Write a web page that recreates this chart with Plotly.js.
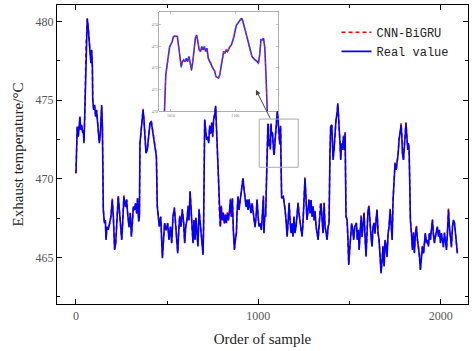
<!DOCTYPE html>
<html>
<head>
<meta charset="utf-8">
<script src="https://cdn.plot.ly/plotly-3.0.1.min.js"></script>
<style>html,body{margin:0;padding:0;background:#fff}#chart{width:474px;height:351px}</style>
</head>
<body>
<div id="chart"></div>
<script>
// Sample index (order of sample)
const order = [
0,4,7,13,17,22,26,31,37,40,44,49,55,59,62,68,73,77,82,86,90,92,97,102,108,113,119,124,128,134,141,145,
150,156,161,165,170,177,185,192,199,205,212,218,225,232,238,245,251,256,263,271,278,284,291,298,304,309,315,322,327,333,338,344,348,
351,357,362,368,373,379,384,391,399,406,413,421,428,435,441,
446,452,457,465,470,474,479,486,494,503,510,518,525,532,540,547,552,558,563,569,576,583,591,596,602,609,615,620,626,631,636,642,647,653,658,664,669,675,680,686,691,697,700,
706,711,717,722,728,733,739,744,750,755,761,766,772,775,781,
786,792,797,803,808,814,819,825,830,836,841,847,852,858,863,869,874,880,883,889,894,900,905,911,916,922,927,933,938,944,949,955,960,966,971,977,982,988,993,999,1004,
1009,1017,1024,1028,1031,1035,1040,
1045,1046,1048,1049,1050,1051,1052,1053,1055,1056,1057,1058,1059,1060,1061,1062,1063,1064,1065,1066,1067,1068,1069,1070,1071,1072,1073,1074,1075,1076,1077,1078,1079,1080,1081,1082,1084,1085,1087,1088,1089,1090,1091,1092,1093,1094,1095,1096,1097,1098,1099,1100,1101,1103,1104,1105,1106,1107,1108,1109,1110,1111,1112,1113,1114,1116,1117,1118,1119,1120,1121,1122,1123,1124,1125,1128,1137,
1143,1147,1152,1158,1163,1169,1174,1180,1185,1190,1196,1201,1207,1212,1218,1223,1229,1234,1240,1245,1251,1256,1262,1267,1273,1278,1284,1289,1295,1300,1306,1311,1317,1322,1328,1333,1339,1344,1350,1355,1361,1366,1372,1377,1383,1388,
1393,1397,1403,1406,1410,1415,1421,1426,1432,1436,1441,1445,1448,1452,1456,1461,1467,1472,1476,
1481,1487,1492,1496,1501,1507,1512,1518,1523,1529,1538,1543,1549,1553,1558,1564,1569,1575,1580,1586,1591,1596,1602,1607,1613,1618,1624,1629,1635,1640,1646,1651,1657,1662,1668,1673,1679,1684,1690,1695,1701,1706,1712,1717,1723,1728,1734,
1739,1745,1750,1756,1761,1767,1772,1778,1783,1787,1790,1796,1801,1805,1810,1816,1820,1823,1827,1831,
1834,1840,1845,1851,1856,1862,1867,1873,1878,1884,1889,1895,1900,1906,1911,1916,1922,1927,1933,1938,1944,1949,1955,1960,1966,1971,1977,1982,1988,1993,1999,2004,2010,2015,2021,2026,2032,2037,2043,2048,2054,2059,2065,2070,2076,2081,2087,2092
];

// Real exhaust temperature (°C)
const realValue = [
470.36,472.90,473.33,472.69,473.54,473.96,473.12,473.43,472.90,473.12,472.27,474.39,478.62,479.90,480.21,479.47,478.62,477.56,477.35,478.20,477.14,475.02,474.39,474.70,473.96,474.39,473.43,472.90,472.27,472.90,474.70,473.33,
468.03,467.18,467.39,466.12,466.97,466.76,467.18,467.61,468.67,467.61,465.49,465.91,467.39,468.88,468.03,467.18,466.12,467.18,468.88,468.24,468.67,467.71,466.97,467.82,466.33,467.18,468.24,468.03,468.45,467.82,468.77,467.29,467.61,
472.27,473.12,473.54,474.39,473.75,472.48,471.63,471.84,472.90,473.54,473.64,473.01,472.27,471.84,471.42,
468.24,467.71,466.97,467.61,465.91,464.96,465.91,467.18,466.76,467.18,466.12,466.97,465.91,467.61,468.13,466.97,466.12,465.27,466.55,467.61,466.97,468.03,467.18,465.91,466.97,467.39,468.24,467.39,469.20,467.82,466.97,465.91,467.39,466.12,467.50,466.65,465.70,468.03,467.39,466.97,466.12,465.17,466.97,
473.75,473.12,472.48,472.69,472.27,473.33,472.90,473.54,472.69,473.75,474.07,474.64,472.69,472.06,470.15,
467.82,466.97,468.24,467.39,467.82,467.18,467.71,467.18,467.82,467.39,467.82,468.66,467.61,468.77,466.76,465.49,466.12,466.55,467.82,468.88,468.03,468.66,469.09,469.94,470.04,469.30,468.88,468.24,468.66,468.03,468.66,468.24,467.82,468.45,468.03,467.39,466.97,467.61,468.66,467.61,466.97,
467.18,466.76,468.03,468.88,466.55,467.61,467.61,
470.00,471.68,472.60,472.99,473.09,473.22,473.45,473.47,473.45,473.06,472.45,472.06,472.29,472.37,472.29,472.45,472.29,472.53,472.22,471.91,472.29,472.76,473.37,473.52,473.22,472.83,472.76,472.99,472.83,472.99,472.76,472.91,472.45,472.29,472.22,472.06,471.85,471.60,471.53,471.68,472.06,472.37,472.76,472.68,472.83,472.76,472.91,472.99,473.06,473.22,473.45,473.75,473.98,474.14,474.21,474.29,474.14,473.91,473.68,473.45,473.22,472.91,472.68,472.53,472.45,472.37,472.29,472.22,472.60,473.30,473.29,473.37,472.90,471.50,469.80,468.80,468.88,
468.45,468.03,467.39,466.33,467.18,468.45,467.39,466.55,467.18,466.33,467.61,466.55,466.97,467.82,468.45,467.82,467.39,466.76,466.33,467.18,468.66,470.04,468.66,467.39,468.03,468.66,467.82,468.66,467.61,468.24,467.39,467.92,466.97,466.55,466.12,466.97,468.24,468.45,467.39,466.55,468.45,466.97,466.55,466.12,466.97,467.18,
471.63,473.33,473.43,472.48,471.21,471.84,473.12,473.75,474.17,474.81,473.75,473.12,472.27,471.21,472.27,471.84,472.69,471.84,472.90,
467.61,467.39,466.12,464.53,465.49,466.55,467.18,466.76,466.12,466.97,467.18,466.12,466.76,465.49,466.97,467.61,466.33,467.39,467.82,466.12,465.06,466.55,468.03,468.24,466.97,466.33,465.70,466.97,467.18,466.55,467.39,468.03,466.55,466.12,465.06,464.00,464.85,465.70,464.43,466.12,465.70,465.06,466.55,466.97,468.03,466.97,466.12,
468.66,470.36,470.99,470.57,470.99,471.63,472.48,472.90,473.43,472.69,471.63,471.21,472.06,473.33,473.54,472.48,471.84,472.27,471.84,469.51,
467.39,466.55,465.49,466.55,465.27,466.55,466.97,466.12,465.70,465.06,464.22,465.27,465.70,465.27,466.12,466.55,465.91,466.12,465.70,466.55,466.12,466.76,467.39,466.55,465.91,466.33,466.76,466.97,466.33,466.76,465.91,466.55,466.12,465.70,466.55,465.91,465.49,466.55,468.03,466.97,466.12,465.70,466.97,467.39,467.18,466.55,465.70,465.27
];

// CNN-BiGRU predicted temperature (°C)
const predicted = [
470.36,472.80,473.38,472.75,473.50,473.90,473.20,473.40,472.95,473.10,472.35,474.30,478.50,479.85,480.15,479.50,478.55,477.62,477.40,478.12,477.20,475.10,474.42,474.65,474.02,474.35,473.48,472.95,472.32,472.88,474.62,473.40,
468.10,467.22,467.35,466.20,466.92,466.80,467.15,467.65,468.75,467.58,465.55,465.95,467.35,468.95,468.00,467.22,466.18,467.15,468.95,468.20,468.70,467.75,466.92,467.85,466.40,467.15,468.30,468.00,468.50,467.78,468.82,467.32,467.58,
472.20,473.18,473.50,474.45,473.70,472.55,471.68,471.80,472.95,473.50,473.70,473.05,472.30,471.80,471.48,
468.30,467.68,467.02,467.58,465.98,465.05,465.88,467.22,466.72,467.20,466.18,466.92,465.98,467.58,468.20,466.92,466.18,465.35,466.50,467.68,466.92,468.08,467.15,465.98,466.92,467.42,468.30,467.35,469.30,467.78,466.92,465.98,467.35,466.18,467.55,466.60,465.78,468.10,467.35,467.02,466.18,465.25,466.92,
473.80,473.08,472.55,472.65,472.32,473.40,472.85,473.60,472.65,473.80,474.12,474.58,472.75,472.02,470.22,
467.88,466.92,468.30,467.35,467.88,467.15,467.75,467.22,467.88,467.35,467.85,468.75,467.58,468.82,466.82,465.55,466.08,466.60,467.78,468.95,468.00,468.70,469.05,469.98,470.10,469.25,468.92,468.20,468.70,468.00,468.72,468.20,467.85,468.50,468.00,467.42,466.92,467.65,468.72,467.58,467.02,
467.15,466.80,468.08,468.95,466.60,467.58,467.65,
470.05,471.60,472.68,472.92,473.15,473.18,473.50,473.42,473.50,473.00,472.50,472.02,472.35,472.32,472.35,472.40,472.35,472.48,472.28,471.86,472.35,472.70,473.42,473.48,473.28,472.78,472.82,472.94,472.88,472.94,472.82,472.86,472.50,472.24,472.28,472.01,471.90,471.55,471.58,471.63,472.12,472.32,472.82,472.63,472.89,472.71,472.97,472.94,473.12,473.17,473.51,473.70,474.04,474.09,474.27,474.24,474.20,473.86,473.74,473.40,473.28,472.86,472.74,472.48,472.51,472.32,472.35,472.17,472.66,473.25,473.35,473.32,472.96,471.45,469.85,468.75,468.92,
468.50,468.00,467.45,466.40,467.15,468.50,467.35,466.60,467.15,466.40,467.58,466.60,466.92,467.88,468.50,467.78,467.42,466.72,466.40,467.15,468.72,470.10,468.62,467.42,468.00,468.72,467.78,468.72,467.58,468.30,467.35,467.98,466.92,466.60,466.18,466.92,468.30,468.50,467.35,466.60,468.50,466.92,466.60,466.18,466.92,467.22,
471.70,473.45,473.38,472.55,471.28,471.80,473.18,473.70,474.22,474.75,473.80,473.08,472.32,471.28,472.22,471.90,472.75,471.80,472.98,
467.68,467.35,466.18,464.60,465.45,466.60,467.15,466.80,466.18,466.92,467.22,466.18,466.72,465.55,466.92,467.68,466.30,467.45,467.88,466.18,465.12,466.50,468.10,468.30,466.92,466.38,465.75,466.92,467.22,466.50,467.45,468.10,466.50,466.18,465.12,464.08,464.80,465.75,464.50,466.08,465.75,465.02,466.60,466.92,468.10,466.92,466.18,
468.72,470.30,471.05,470.52,471.05,471.58,472.55,472.85,473.55,472.65,471.70,471.18,472.12,473.28,473.60,472.42,471.90,472.22,471.90,469.58,
467.45,466.50,465.55,466.62,465.32,466.50,467.02,466.08,465.75,465.02,464.30,465.22,465.75,465.22,466.18,466.50,465.98,466.08,465.75,466.50,466.18,466.72,467.45,466.50,465.98,466.28,466.82,466.92,466.40,466.72,465.98,466.50,466.18,465.65,466.60,465.88,465.55,466.50,468.12,466.92,466.18,465.65,467.02,467.35,467.22,466.50,465.75,465.22
];

const seriesNames = ['CNN-BiGRU', 'Real value'];
const xTickLabels = ['0', '1000', '2000'];
const yTickLabels = ['465', '470', '475', '480'];

const serif = 'Liberation Serif, Times New Roman, serif';

const traces = [
  // inset (drawn first, underneath the main panel)
  {x: order, y: realValue, xaxis: 'x', yaxis: 'y', type: 'scatter', mode: 'lines',
   line: {color: '#2a2aff', width: 1.6}, showlegend: false, hoverinfo: 'skip'},
  {x: order, y: predicted, xaxis: 'x', yaxis: 'y', type: 'scatter', mode: 'lines',
   line: {color: '#ff2020', width: 1, dash: '2px,3px'}, showlegend: false, hoverinfo: 'skip'},
  // main panel
  {x: order, y: predicted, xaxis: 'x2', yaxis: 'y2', type: 'scatter', mode: 'lines', name: seriesNames[0],
   line: {color: '#ff0000', width: 1.5, dash: '4px,3px'}},
  {x: order, y: realValue, xaxis: 'x2', yaxis: 'y2', type: 'scatter', mode: 'lines', name: seriesNames[1],
   line: {color: '#0000ff', width: 1.6}}
];

const insetAxis = {
  showline: true, linecolor: '#999', linewidth: 0.8, mirror: 'allticks',
  ticks: 'inside', ticklen: 2, tickcolor: '#999', tickwidth: 0.6,
  tickfont: {family: serif, size: 4, color: '#777'},
  showgrid: false, zeroline: false, fixedrange: true
};

const layout = {
  width: 474, height: 351,
  margin: {l: 57, r: 6, t: 5, b: 47},
  paper_bgcolor: '#ffffff', plot_bgcolor: 'rgba(0,0,0,0)',
  showlegend: true,
  legend: {x: 0.68, y: 0.957, xanchor: 'left', yanchor: 'top', bgcolor: 'rgba(0,0,0,0)',
           font: {family: 'Liberation Mono, monospace', size: 12, color: '#222'},
           itemwidth: 30, tracegroupgap: 0},
  xaxis: Object.assign({}, insetAxis, {domain: [0.249, 0.537], anchor: 'y', range: [1041, 1133], dtick: 50, tick0: 1000}),
  yaxis: Object.assign({}, insetAxis, {domain: [0.6445, 0.978], anchor: 'x', range: [470, 474.6], dtick: 1, tick0: 470}),
  xaxis2: {
    domain: [0, 1], anchor: 'y2', range: [-104, 2150],
    tickmode: 'array', tickvals: xTickLabels.map(Number), ticktext: xTickLabels,
    minor: {tickvals: [500, 1500], ticks: 'inside', ticklen: 3, tickcolor: '#000'},
    ticks: 'inside', ticklen: 5, tickcolor: '#000', tickwidth: 1,
    showline: true, linecolor: '#000', linewidth: 1.2, mirror: 'allticks',
    showgrid: false, zeroline: false,
    tickfont: {family: serif, size: 12, color: '#555'},
    title: {text: 'Order of sample', font: {family: serif, size: 15, color: '#222'}, standoff: 12}
  },
  yaxis2: {
    domain: [0, 1], anchor: 'x2', range: [462.05, 481.05],
    tickmode: 'array', tickvals: yTickLabels.map(Number), ticktext: yTickLabels,
    minor: {tickvals: [462.5, 467.5, 472.5, 477.5], ticks: 'inside', ticklen: 3, tickcolor: '#000'},
    ticks: 'inside', ticklen: 5, tickcolor: '#000', tickwidth: 1,
    showline: true, linecolor: '#000', linewidth: 1.2, mirror: 'allticks',
    showgrid: false, zeroline: false,
    tickfont: {family: serif, size: 12, color: '#555'},
    title: {text: 'Exhaust temperature/°C', font: {family: serif, size: 15, color: '#222'}, standoff: 8}
  },
  shapes: [
    {type: 'rect', xref: 'x2', yref: 'y2', x0: 1005, x1: 1219, y0: 470.74, y1: 473.8,
     line: {color: '#aaa', width: 1}, fillcolor: 'rgba(0,0,0,0)'}
  ],
  annotations: [
    {xref: 'x2', yref: 'y2', x: 987, y: 475.66, ax: 15, ay: 30, text: '', showarrow: true,
     arrowhead: 2, arrowsize: 1, arrowwidth: 1, arrowcolor: '#444', standoff: 0}
  ]
};

Plotly.newPlot('chart', traces, layout, {displayModeBar: false, staticPlot: true});
</script>
</body>
</html>
